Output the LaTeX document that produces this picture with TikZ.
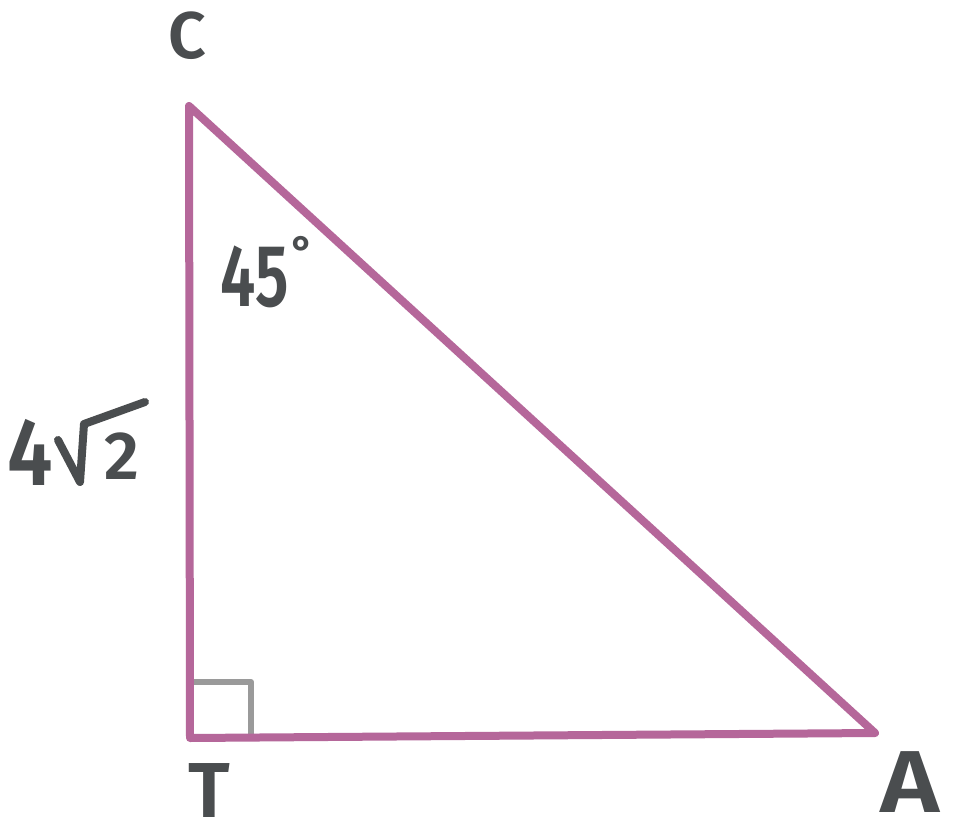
\documentclass[tikz,border=0pt]{standalone}
\usepackage{fontspec}
\setmainfont{Fira Sans}[BoldFont={Fira Sans SemiBold}]
\definecolor{tri}{HTML}{B5679A}
\definecolor{ink}{HTML}{4A4D4F}
\definecolor{sq}{HTML}{9A9A9A}
\begin{document}
\begin{tikzpicture}[x=1pt,y=-1pt,
  side/.style={draw=tri,line width=8pt,line join=round,line cap=round},
  lbl/.style={text=ink,inner sep=0pt,anchor=center},
  ink line/.style={draw=ink,line width=8pt,line cap=round,line join=round}]
\useasboundingbox (0,0) rectangle (963,837);
\fill[white] (0,0) rectangle (963,837);
\coordinate (C) at (189,106);
\coordinate (T) at (190,738);
\coordinate (A) at (875,733);
\coordinate (S1) at (192,682);
\coordinate (S2) at (251,682);
\coordinate (S3) at (251,738);
\draw[draw=sq,line width=6pt,line join=round] (S1) -- (S2) -- (S3);
\draw[side] (C) -- (T) -- (A) -- cycle;
\node[lbl,font=\fontsize{66}{66}\selectfont\bfseries] (lc) at (187,36) {C};
\node[lbl,font=\fontsize{78}{78}\selectfont\bfseries] (lt) at (209,791) {T};
\node[lbl,font=\fontsize{88}{88}\selectfont\bfseries,xscale=1.15] (la) at (910,782) {A};
\node[lbl,font=\fontsize{96}{96}\selectfont\bfseries,xscale=0.85] (l4) at (30,452) {4};
\node[lbl,font=\fontsize{68}{68}\selectfont\bfseries] (l2) at (122,456) {2};
\coordinate (r1) at (58,440);
\coordinate (r2) at (80,482);
\coordinate (r3) at (84,424);
\coordinate (r4) at (145,402);
\draw[ink line] (r1) -- (r2) -- (r3) -- (r4);
\node[lbl,font=\fontsize{88}{88}\selectfont\bfseries,xscale=0.72] (l45) at (255,277) {45};
\node[lbl,font=\fontsize{44}{44}\selectfont\bfseries] (ldeg) at (303,252) {°};
\end{tikzpicture}
\end{document}
